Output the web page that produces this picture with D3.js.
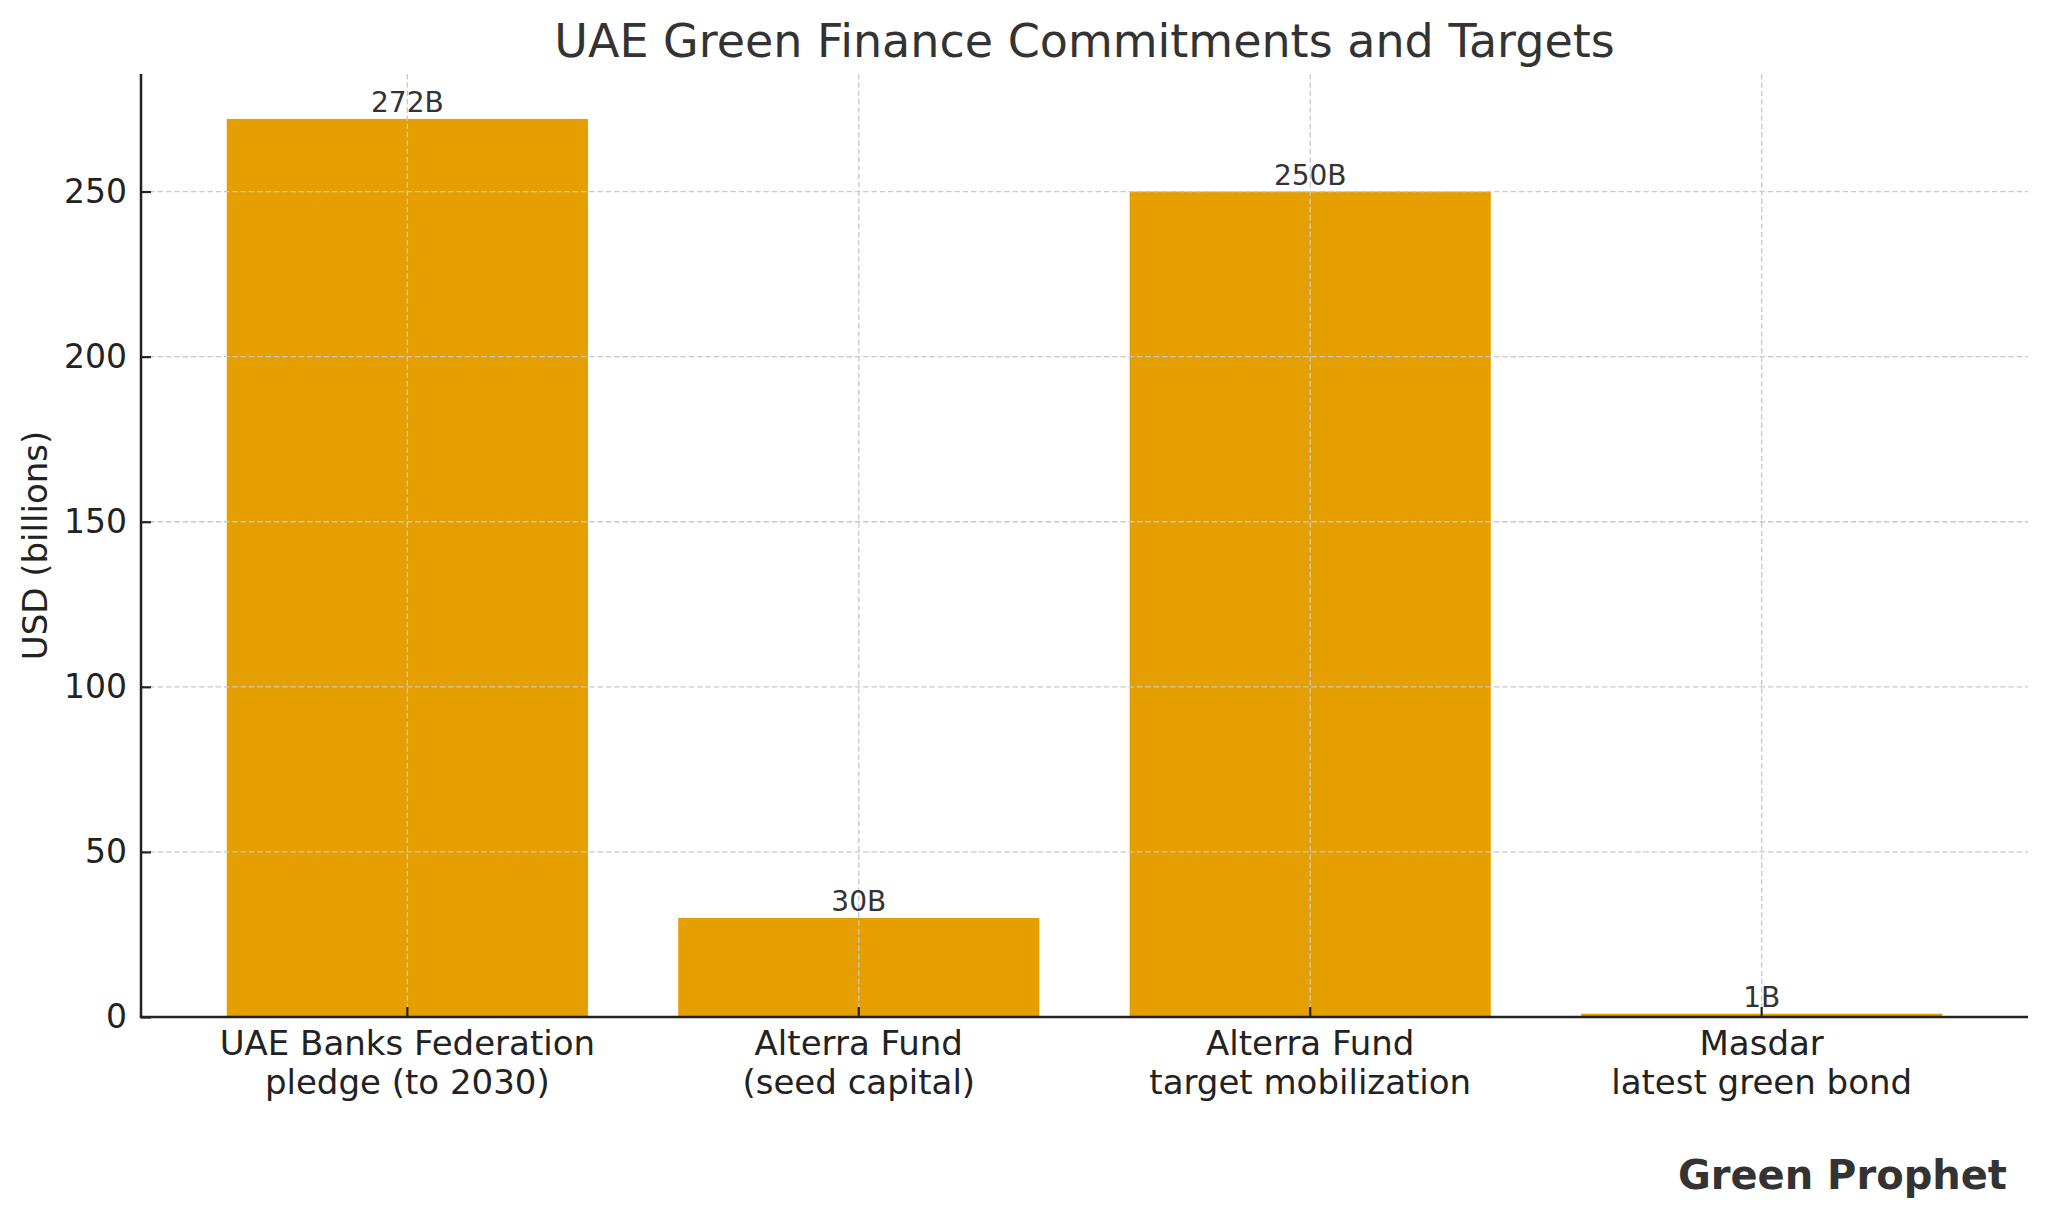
<!DOCTYPE html>
<html>
<head>
<meta charset="utf-8">
<script src="https://cdn.jsdelivr.net/npm/d3@7"></script>
<style>
  body { margin: 0; background: #fff; }
  text { font-family: "DejaVu Sans", sans-serif; }
</style>
</head>
<body>
<svg id="chart" width="2048" height="1220"></svg>
<script>
// chart data
const categories = [
  ["UAE Banks Federation", "pledge (to 2030)"],
  ["Alterra Fund", "(seed capital)"],
  ["Alterra Fund", "target mobilization"],
  ["Masdar", "latest green bond"]
];
const values = [272, 30, 250, 1];
const valueLabels = ["272B", "30B", "250B", "1B"];
const yTicks = [0, 50, 100, 150, 200, 250];

const W = 2048, H = 1220;
const margin = { left: 141, right: 20, top: 74, bottom: 203 };
const plotR = W - margin.right, plotB = H - margin.bottom;

const svg = d3.select("#chart");

// band scale mimics matplotlib bar width 0.8 + 5% margins
const x = d3.scaleBand()
  .domain(d3.range(categories.length))
  .range([margin.left, plotR])
  .paddingInner(0.2)
  .paddingOuter(0.19);

const y = d3.scaleLinear()
  .domain([0, d3.max(values) * 1.05])
  .range([plotB, margin.top]);

// bars
svg.append("g").selectAll("rect")
  .data(values)
  .join("rect")
    .attr("x", (d, i) => x(i))
    .attr("y", d => y(d))
    .attr("width", x.bandwidth())
    .attr("height", d => plotB - y(d))
    .attr("fill", "#E69F00");

// grid (drawn over bars, like matplotlib)
const grid = svg.append("g")
  .attr("stroke", "#c8c8c8")
  .attr("stroke-width", 1.3)
  .attr("stroke-dasharray", "5.5,2.8");

grid.selectAll("line.h")
  .data(yTicks)
  .join("line")
    .attr("class", "h")
    .attr("x1", margin.left).attr("x2", plotR)
    .attr("y1", d => y(d)).attr("y2", d => y(d));

grid.selectAll("line.v")
  .data(categories)
  .join("line")
    .attr("class", "v")
    .attr("x1", (d, i) => x(i) + x.bandwidth() / 2)
    .attr("x2", (d, i) => x(i) + x.bandwidth() / 2)
    .attr("y1", margin.top).attr("y2", plotB);

// value labels
svg.append("g").selectAll("text")
  .data(values)
  .join("text")
    .attr("x", (d, i) => x(i) + x.bandwidth() / 2)
    .attr("y", d => y(d) - 7)
    .attr("text-anchor", "middle")
    .attr("font-size", 28)
    .attr("fill", "#333")
    .text((d, i) => valueLabels[i]);

// y axis
const yAxis = svg.append("g")
  .attr("transform", `translate(${margin.left},0)`)
  .call(d3.axisLeft(y).tickValues(yTicks).tickSizeInner(-10).tickSizeOuter(0).tickPadding(14));
yAxis.select(".domain").attr("stroke", "#222").attr("stroke-width", 2.5)
  .attr("d", `M0,${margin.top}V${plotB}`);
yAxis.selectAll(".tick line").attr("stroke", "#222").attr("stroke-width", 2.2);
yAxis.selectAll(".tick text")
  .attr("font-size", 33).attr("fill", "#222")
  .attr("font-family", "DejaVu Sans");

// x axis
const xAxis = svg.append("g")
  .attr("transform", `translate(0,${plotB})`)
  .call(d3.axisBottom(x).tickSizeInner(-10).tickSizeOuter(0).tickFormat(""));
xAxis.select(".domain").attr("stroke", "#222").attr("stroke-width", 2.5)
  .attr("d", `M${margin.left - 1.25},0H${plotR}`);
xAxis.selectAll(".tick line").attr("stroke", "#222").attr("stroke-width", 2.2);
xAxis.selectAll(".tick").each(function(d) {
  const t = d3.select(this).append("text")
    .attr("text-anchor", "middle")
    .attr("font-size", 34)
    .attr("fill", "#222");
  categories[d].forEach((line, k) => {
    t.append("tspan").attr("x", 0).attr("y", 38 + k * 39).text(line);
  });
});

// y label
svg.append("text")
  .attr("transform", `translate(47,${(margin.top + plotB) / 2}) rotate(-90)`)
  .attr("text-anchor", "middle")
  .attr("font-size", 34)
  .attr("fill", "#222")
  .text("USD (billions)");

// title
svg.append("text")
  .attr("x", (margin.left + plotR) / 2)
  .attr("y", 57)
  .attr("text-anchor", "middle")
  .attr("font-size", 46)
  .attr("fill", "#333")
  .text("UAE Green Finance Commitments and Targets");

// watermark
svg.append("text")
  .attr("x", 2007)
  .attr("y", 1189)
  .attr("text-anchor", "end")
  .attr("font-size", 40)
  .attr("font-weight", "bold")
  .attr("fill", "#333")
  .text("Green Prophet");
</script>
</body>
</html>
